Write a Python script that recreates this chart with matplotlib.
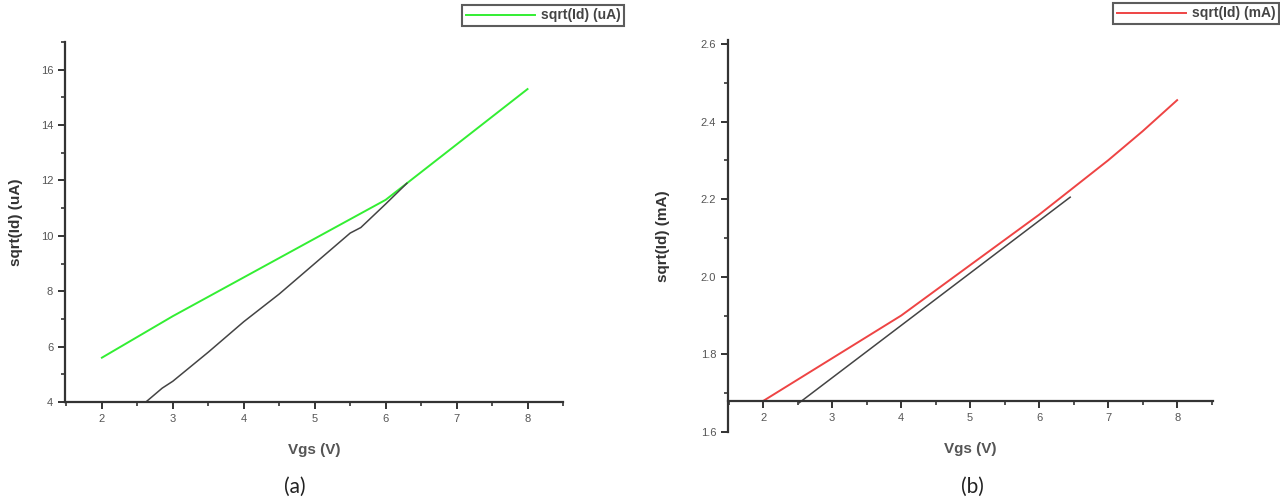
import matplotlib.pyplot as plt
from matplotlib.ticker import MultipleLocator

# =====================
# DATA
# =====================
vgs_a = [2.0, 2.5, 3.0, 3.5, 4.0, 4.5, 5.0, 5.5, 6.0, 6.5, 7.0, 7.5, 8.0]
sqrt_id_ua = [5.6, 6.35, 7.1, 7.8, 8.5, 9.2, 9.9, 10.6, 11.3, 12.3, 13.3, 14.3, 15.3]
fit_a_x = [2.62, 2.85, 3.0, 3.5, 4.0, 4.5, 5.0, 5.5, 5.65, 6.0, 6.3]
fit_a_y = [4.0, 4.5, 4.75, 5.8, 6.9, 7.9, 9.0, 10.1, 10.3, 11.15, 11.9]

vgs_b = [2.0, 2.5, 3.0, 3.5, 4.0, 4.5, 5.0, 5.5, 6.0, 6.5, 7.0, 7.5, 8.0]
sqrt_id_ma = [1.68, 1.735, 1.79, 1.845, 1.90, 1.965, 2.03, 2.095, 2.16, 2.23, 2.30, 2.375, 2.455]
fit_b_x = [2.52, 6.45]
fit_b_y = [1.675, 2.205]

TXT = "#555555"

fig = plt.figure(figsize=(12.8, 5.01), dpi=100)
plt.rcParams['font.family'] = ['Liberation Sans', 'DejaVu Sans']


def style_axes(ax):
    for s in ["top", "right"]:
        ax.spines[s].set_visible(False)
    for s in ["left", "bottom"]:
        ax.spines[s].set_linewidth(1.6)
        ax.spines[s].set_color("#333333")
    ax.tick_params(which="major", direction="out", length=5, width=1.4,
                   color="#333333", labelsize=8, labelcolor=TXT)
    ax.tick_params(which="minor", direction="out", length=3, width=1.2,
                   color="#333333")
    ax.xaxis.set_major_locator(MultipleLocator(1))
    ax.xaxis.set_minor_locator(MultipleLocator(0.5))


def add_legend(ax, right_px, top_px):
    leg = ax.legend(loc="upper right",
                    bbox_to_anchor=(right_px / 1280, 1 - top_px / 501),
                    bbox_transform=fig.transFigure, fontsize=10, frameon=True,
                    fancybox=False, edgecolor="#333333", handlelength=5,
                    borderpad=0.25, handletextpad=0.4, borderaxespad=0)
    leg.get_frame().set_linewidth(1.5)
    for t in leg.get_texts():
        t.set_color("#444444")
        t.set_fontweight("bold")


# =====================
# PANEL (a)
# =====================
ax1 = fig.add_axes([65 / 1280, 1 - 402 / 501, 498 / 1280, 360 / 501])
ax1.plot(vgs_a, sqrt_id_ua, color="#33ee33", lw=1.4, label="sqrt(Id) (uA)")
ax1.plot(fit_a_x, fit_a_y, color="#444444", lw=1.1)
ax1.set_xlim(1.48, 8.5)
ax1.set_ylim(4, 17)
style_axes(ax1)
ax1.yaxis.set_major_locator(MultipleLocator(2))
ax1.yaxis.set_minor_locator(MultipleLocator(1))
ax1.set_xlabel("Vgs (V)", fontsize=11, color=TXT, fontweight="bold", labelpad=14)
ax1.set_ylabel("sqrt(Id) (uA)", fontsize=11, color="#333333", fontweight="bold", labelpad=13)
add_legend(ax1, 624, 5)

# =====================
# PANEL (b)
# =====================
ax2 = fig.add_axes([728 / 1280, 1 - 432 / 501, 485 / 1280, 392 / 501])
ax2.plot(vgs_b, sqrt_id_ma, color="#ee4444", lw=1.4, label="sqrt(Id) (mA)")
ax2.plot(fit_b_x, fit_b_y, color="#444444", lw=1.1)
ax2.set_xlim(1.49, 8.52)
ax2.set_ylim(1.6, 2.61)
style_axes(ax2)
ax2.spines["bottom"].set_position(("data", 1.68))
ax2.yaxis.set_major_locator(MultipleLocator(0.2))
ax2.yaxis.set_minor_locator(MultipleLocator(0.1))
ax2.set_xlabel("Vgs (V)", fontsize=11, color=TXT, fontweight="bold", labelpad=14)
ax2.set_ylabel("sqrt(Id) (mA)", fontsize=11, color="#333333", fontweight="bold", labelpad=22)
add_legend(ax2, 1279, 3)

fig.text(295 / 1280, 1 - 487 / 501, "(a)", fontsize=15, ha="center", va="center",
         color="#222222", family=["Lato", "DejaVu Sans"])
fig.text(972 / 1280, 1 - 487 / 501, "(b)", fontsize=15, ha="center", va="center",
         color="#222222", family=["Lato", "DejaVu Sans"])

fig.savefig("out.png", dpi=100)
